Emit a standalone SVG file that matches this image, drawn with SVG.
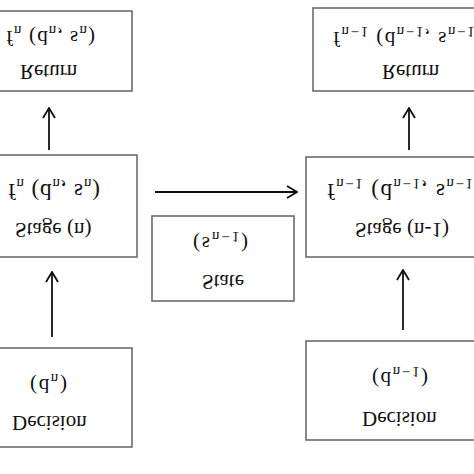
<svg xmlns="http://www.w3.org/2000/svg" width="474" height="474" viewBox="0 0 474 474">
<style>
.box{fill:#fff;stroke:#6b6b6b;stroke-width:1.6}
.t{font-family:"Liberation Serif","Times New Roman",serif;font-size:21px;fill:#111}
.big{font-size:23px}
.sub{font-size:15px}
.c{stroke:#111;stroke-width:1.8;fill:none}
</style>
<defs>
<marker id="ah" viewBox="0 0 12 14" refX="11" refY="7" markerWidth="12" markerHeight="14" markerUnits="userSpaceOnUse" orient="auto">
<path d="M1,1 L11,7 L1,13" fill="none" stroke="#111" stroke-width="1.8"/>
</marker>
</defs>
<rect width="474" height="474" fill="#fff"/>
<g id="return-n">
<rect class="box" x="-40" y="11" width="172" height="80"/>
<text class="t" transform="translate(6,31) scale(1,-1)" textLength="89" lengthAdjust="spacing">f<tspan class="sub" dy="5">n</tspan><tspan dy="-5"> (d</tspan><tspan class="sub" dy="5">n</tspan><tspan dy="-5">, s</tspan><tspan class="sub" dy="5">n</tspan><tspan dy="-5">)</tspan></text>
<text class="t" transform="translate(20,65) scale(1,-1)">Return</text>
</g>
<g id="return-n-1">
<rect class="box" x="313" y="8" width="200" height="83"/>
<text class="t" transform="translate(333,32) scale(1,-1)" textLength="150" lengthAdjust="spacing">f<tspan class="sub" dy="5">n−1</tspan><tspan dy="-5"> (d</tspan><tspan class="sub" dy="5">n−1</tspan><tspan dy="-5">, s</tspan><tspan class="sub" dy="5">n−1</tspan><tspan dy="-5">)</tspan></text>
<text class="t" transform="translate(382,65) scale(1,-1)">Return</text>
</g>
<g id="stage-n">
<rect class="box" x="-40" y="155" width="177" height="102"/>
<text class="t big" transform="translate(8,184) scale(1,-1)" textLength="92" lengthAdjust="spacing">f<tspan class="sub" dy="5">n</tspan><tspan dy="-5"> (d</tspan><tspan class="sub" dy="5">n</tspan><tspan dy="-5">, s</tspan><tspan class="sub" dy="5">n</tspan><tspan dy="-5">)</tspan></text>
<text class="t" transform="translate(15,223) scale(1,-1)">Stage (n)</text>
</g>
<g id="stage-n-1">
<rect class="box" x="306" y="157" width="210" height="100"/>
<text class="t big" transform="translate(327,184) scale(1,-1)" textLength="155" lengthAdjust="spacing">f<tspan class="sub" dy="5">n−1</tspan><tspan dy="-5"> (d</tspan><tspan class="sub" dy="5">n−1</tspan><tspan dy="-5">, s</tspan><tspan class="sub" dy="5">n−1</tspan><tspan dy="-5">)</tspan></text>
<text class="t" transform="translate(355,223) scale(1,-1)">Stage (n-1)</text>
</g>
<g id="state">
<rect class="box" x="152" y="216" width="142" height="85"/>
<text class="t" transform="translate(193,237) scale(1,-1)" textLength="55" lengthAdjust="spacing">(s<tspan class="sub" dy="5">n−1</tspan><tspan dy="-5">)</tspan></text>
<text class="t" transform="translate(202,275) scale(1,-1)">State</text>
</g>
<g id="decision-n">
<rect class="box" x="-40" y="348" width="172" height="99"/>
<text class="t" transform="translate(30,379) scale(1,-1)" textLength="37" lengthAdjust="spacing">(d<tspan class="sub" dy="5">n</tspan><tspan dy="-5">)</tspan></text>
<text class="t" transform="translate(12,416) scale(1,-1)">Decision</text>
</g>
<g id="decision-n-1">
<rect class="box" x="306" y="341" width="210" height="99"/>
<text class="t" transform="translate(372,372) scale(1,-1)" textLength="56" lengthAdjust="spacing">(d<tspan class="sub" dy="5">n−1</tspan><tspan dy="-5">)</tspan></text>
<text class="t" transform="translate(362,412) scale(1,-1)">Decision</text>
</g>
<g id="connectors">
<line class="c" x1="49" y1="150" x2="49" y2="108" marker-end="url(#ah)"/>
<line class="c" x1="409" y1="150" x2="409" y2="108" marker-end="url(#ah)"/>
<line class="c" x1="155" y1="192" x2="297" y2="192" marker-end="url(#ah)"/>
<line class="c" x1="52" y1="337" x2="52" y2="272" marker-end="url(#ah)"/>
<line class="c" x1="403" y1="330" x2="403" y2="270" marker-end="url(#ah)"/>
</g>
</svg>
